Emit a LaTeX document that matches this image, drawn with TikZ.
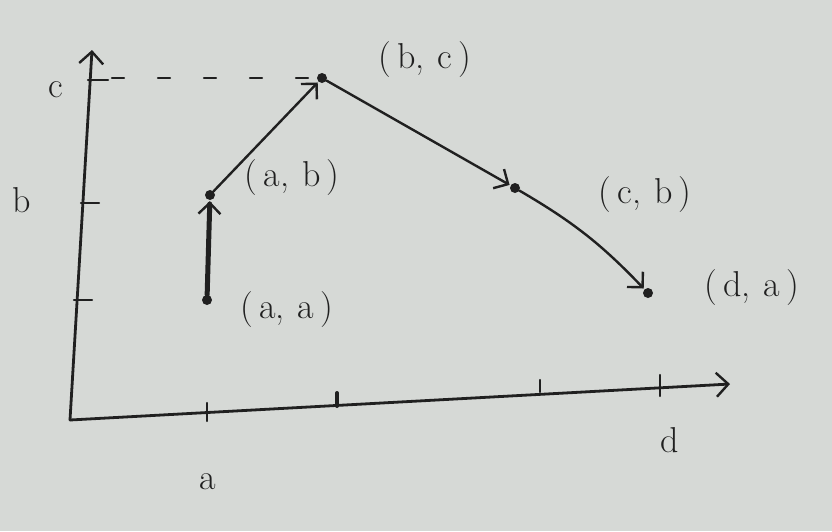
\documentclass[tikz,border=0pt]{standalone}
\usepackage{fontspec}
\usetikzlibrary{arrows.meta}
\definecolor{paper}{RGB}{214,217,214}
\definecolor{ink}{RGB}{32,32,32}
\newcommand{\gp}{\hspace{0.18em}}
\newcommand{\pair}[2]{(\gp #1,\gp\gp #2\gp)}
\begin{document}
\begin{tikzpicture}[x=1pt,y=-1pt,
  ink line/.style={draw=ink, line width=2.4pt, line cap=round},
  axis/.style={ink line, line width=2.8pt, -{Straight Barb[length=12pt,width=24pt,line width=2.4pt]}},
  flow/.style={ink line, -{Straight Barb[length=11pt,width=22pt,line width=2.4pt]}, shorten >=1pt},
  tick/.style={ink line, line width=2.4pt},
  pt/.style={circle, fill=ink, inner sep=0pt, minimum size=10pt},
  lbl/.style={text=ink, font=\fontsize{36}{38}\selectfont, inner sep=0pt},
  coordlbl/.style={lbl}]
\useasboundingbox (0,0) rectangle (832,531);
\fill[paper] (0,0) rectangle (832,531);

% axes
\coordinate (O) at (70,420);
\coordinate (ytop) at (92,50);
\coordinate (xend) at (730,384);
\draw[axis] (O) -- (ytop);
\draw[axis] (O) -- (xend);

% y ticks
\coordinate (ya1) at (74,300); \coordinate (ya2) at (92,300);
\coordinate (yb1) at (81,203); \coordinate (yb2) at (99,203);
\coordinate (yc1) at (88,80);  \coordinate (yc2) at (108,80);
\draw[tick] (ya1) -- (ya2);
\draw[tick] (yb1) -- (yb2);
\draw[tick] (yc1) -- (yc2);

% x ticks
\coordinate (xa1) at (207,403); \coordinate (xa2) at (207,421);
\coordinate (xb1) at (337,393); \coordinate (xb2) at (337,406);
\coordinate (xc1) at (540,380); \coordinate (xc2) at (540,392);
\coordinate (xd1) at (660,375); \coordinate (xd2) at (660,396);
\draw[tick] (xa1) -- (xa2);
\draw[tick, line width=4pt] (xb1) -- (xb2);
\draw[tick] (xc1) -- (xc2);
\draw[tick] (xd1) -- (xd2);

% axis labels
\node[lbl] (lc) at (56,90) {c};
\node[lbl] (lb) at (22,200) {b};
\node[lbl] (la) at (208,482) {a};
\node[lbl] (ld) at (670,440) {d};

% points
\node[pt] (paa) at (207,300) {};
\node[pt] (pab) at (210,195) {};
\node[pt] (pbc) at (322,78) {};
\node[pt] (pcb) at (515,188) {};
\node[pt] (pda) at (648,293) {};

% dashed guide at height c
\coordinate (gc) at (112,78);
\draw[ink line, dash pattern=on 12pt off 34pt] (gc) -- (pbc);

% path
\draw[flow, line width=5pt] (paa) -- (pab);
\draw[flow] (pab) -- (pbc);
\draw[flow] (pbc) -- (pcb);
\draw[flow] (pcb) to[bend left=8] (pda);

% point labels
\node[coordlbl] (tbc) at (425,60) {\pair{b}{c}};
\node[coordlbl] (tab) at (292,178) {\pair{a}{b}};
\node[coordlbl] (tcb) at (645,195) {\pair{c}{b}};
\node[coordlbl] (tda) at (752,288) {\pair{d}{a}};
\node[coordlbl] (taa) at (287,310) {\pair{a}{a}};
\end{tikzpicture}
\end{document}
